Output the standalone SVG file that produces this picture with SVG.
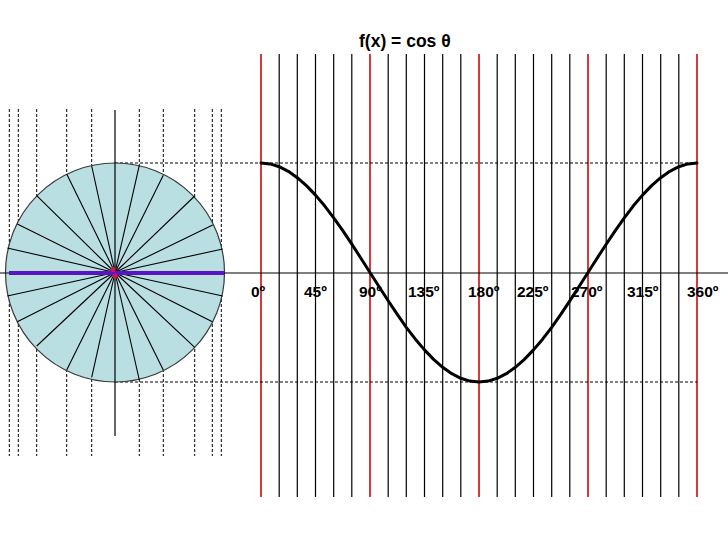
<svg xmlns="http://www.w3.org/2000/svg" width="728" height="546" viewBox="0 0 728 546">
<style>
.grid{stroke:#000;stroke-width:1.2}
.red{stroke:#d63a3a;stroke-width:2}
.dash{stroke:#000;stroke-width:1;stroke-dasharray:3 2;fill:none}
.ray{stroke:#000;stroke-width:1.1}
.lbl{font-family:"Liberation Sans",Arial,sans-serif;font-weight:bold;font-size:15.5px;fill:#000}
</style>
<rect width="728" height="546" fill="#fff"/>
<g id="title"><text class="lbl" x="359" y="47" style="font-size:17.5px">f(x) = cos θ</text></g>
<g id="grid">
<line class="red" x1="261" y1="54" x2="261" y2="497"/>
<line class="grid" x1="279.2" y1="54" x2="279.2" y2="497"/>
<line class="grid" x1="297.3" y1="54" x2="297.3" y2="497"/>
<line class="grid" x1="315.5" y1="54" x2="315.5" y2="497"/>
<line class="grid" x1="333.7" y1="54" x2="333.7" y2="497"/>
<line class="grid" x1="351.8" y1="54" x2="351.8" y2="497"/>
<line class="red" x1="370" y1="54" x2="370" y2="497"/>
<line class="grid" x1="388.2" y1="54" x2="388.2" y2="497"/>
<line class="grid" x1="406.3" y1="54" x2="406.3" y2="497"/>
<line class="grid" x1="424.5" y1="54" x2="424.5" y2="497"/>
<line class="grid" x1="442.7" y1="54" x2="442.7" y2="497"/>
<line class="grid" x1="460.8" y1="54" x2="460.8" y2="497"/>
<line class="red" x1="479" y1="54" x2="479" y2="497"/>
<line class="grid" x1="497.2" y1="54" x2="497.2" y2="497"/>
<line class="grid" x1="515.3" y1="54" x2="515.3" y2="497"/>
<line class="grid" x1="533.5" y1="54" x2="533.5" y2="497"/>
<line class="grid" x1="551.7" y1="54" x2="551.7" y2="497"/>
<line class="grid" x1="569.8" y1="54" x2="569.8" y2="497"/>
<line class="red" x1="588" y1="54" x2="588" y2="497"/>
<line class="grid" x1="606.2" y1="54" x2="606.2" y2="497"/>
<line class="grid" x1="624.3" y1="54" x2="624.3" y2="497"/>
<line class="grid" x1="642.5" y1="54" x2="642.5" y2="497"/>
<line class="grid" x1="660.7" y1="54" x2="660.7" y2="497"/>
<line class="grid" x1="678.8" y1="54" x2="678.8" y2="497"/>
<line class="red" x1="697" y1="54" x2="697" y2="497"/>
</g>
<g id="projections">
<line class="dash" x1="9.3" y1="109" x2="9.3" y2="456"/>
<line class="dash" x1="18.3" y1="109" x2="18.3" y2="456"/>
<line class="dash" x1="36.7" y1="109" x2="36.7" y2="456"/>
<line class="dash" x1="66.7" y1="109" x2="66.7" y2="456"/>
<line class="dash" x1="91.7" y1="109" x2="91.7" y2="456"/>
<line class="dash" x1="139.3" y1="109" x2="139.3" y2="456"/>
<line class="dash" x1="163.3" y1="109" x2="163.3" y2="456"/>
<line class="dash" x1="194.7" y1="109" x2="194.7" y2="456"/>
<line class="dash" x1="212.3" y1="109" x2="212.3" y2="456"/>
<line class="dash" x1="221.3" y1="109" x2="221.3" y2="456"/>
<line class="dash" x1="115" y1="163" x2="697" y2="163"/>
<line class="dash" x1="115" y1="382" x2="697" y2="382"/>
</g>
<g id="circle">
<circle cx="115" cy="272.5" r="109.5" fill="#b9dfe3" stroke="#3a3a3a" stroke-width="1.2"/>
<g class="ray">
<line x1="115" y1="272.5" x2="91.7" y2="166"/>
<line x1="115" y1="272.5" x2="66.7" y2="174"/>
<line x1="115" y1="272.5" x2="36.7" y2="195.7"/>
<line x1="115" y1="272.5" x2="17.3" y2="224"/>
<line x1="115" y1="272.5" x2="7.3" y2="248"/>
<line x1="115" y1="272.5" x2="139.3" y2="165.3"/>
<line x1="115" y1="272.5" x2="163.3" y2="175.3"/>
<line x1="115" y1="272.5" x2="194.7" y2="196"/>
<line x1="115" y1="272.5" x2="212.7" y2="225"/>
<line x1="115" y1="272.5" x2="222.7" y2="249"/>
<line x1="115" y1="272.5" x2="7.3" y2="296"/>
<line x1="115" y1="272.5" x2="17.3" y2="321.7"/>
<line x1="115" y1="272.5" x2="36.7" y2="346"/>
<line x1="115" y1="272.5" x2="66.7" y2="370"/>
<line x1="115" y1="272.5" x2="91.7" y2="377.3"/>
<line x1="115" y1="272.5" x2="139.3" y2="380"/>
<line x1="115" y1="272.5" x2="163.3" y2="370"/>
<line x1="115" y1="272.5" x2="194.7" y2="347.3"/>
<line x1="115" y1="272.5" x2="212.3" y2="321.7"/>
<line x1="115" y1="272.5" x2="222.7" y2="296"/>
</g>
<line x1="115" y1="110" x2="115" y2="436" stroke="#000" stroke-width="1.2"/>
</g>
<g id="axis"><line x1="0" y1="273" x2="728" y2="273" stroke="#000" stroke-width="1.2"/></g>
<g id="radius">
<line x1="9" y1="273" x2="224" y2="273" stroke="#5a14c4" stroke-width="4"/>
<circle cx="113" cy="269.5" r="2.6" fill="#d4145a"/>
<circle cx="115" cy="276" r="2.6" fill="#d4145a"/>
</g>
<g id="curve">
<polyline fill="none" stroke="#000" stroke-width="3" stroke-linejoin="round" stroke-linecap="round" points="261,163 270.1,163.9 279.2,166.7 288.3,171.3 297.3,177.7 306.4,185.6 315.5,195.1 324.6,205.8 333.7,217.8 342.8,230.6 351.8,244.2 360.9,258.2 370,272.5 379.1,286.8 388.2,300.8 397.3,314.4 406.3,327.3 415.4,339.2 424.5,349.9 433.6,359.4 442.7,367.3 451.8,373.7 460.8,378.3 469.9,381.1 479,382 488.1,381.1 497.2,378.3 506.3,373.7 515.3,367.3 524.4,359.4 533.5,349.9 542.6,339.2 551.7,327.3 560.8,314.4 569.8,300.8 578.9,286.8 588,272.5 597.1,258.2 606.2,244.2 615.3,230.6 624.3,217.8 633.4,205.8 642.5,195.1 651.6,185.6 660.7,177.7 669.8,171.3 678.8,166.7 687.9,163.9 697,163"/>
</g>
<g id="labels">
<text class="lbl" x="251" y="297">0º</text>
<text class="lbl" x="304" y="297">45º</text>
<text class="lbl" x="359" y="297">90º</text>
<text class="lbl" x="408" y="297">135º</text>
<text class="lbl" x="468" y="297">180º</text>
<text class="lbl" x="517" y="297">225º</text>
<text class="lbl" x="571" y="297">270º</text>
<text class="lbl" x="627" y="297">315º</text>
<text class="lbl" x="687" y="297">360º</text>
</g>
</svg>
